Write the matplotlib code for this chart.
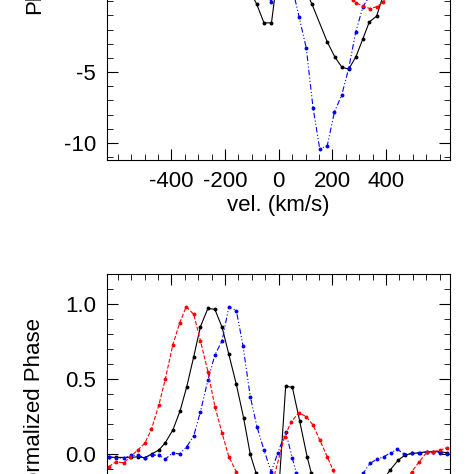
import numpy as np
import matplotlib.pyplot as plt

plt.rcParams['font.family'] = ['Liberation Sans', 'DejaVu Sans']

# top panel: phase vs velocity (only lower part visible)
top_black_v = [-640, -300, -110, -82, -55, -27, -10, 40, 100, 124, 181, 209, 236, 261, 288, 313, 338, 365, 400, 640]
top_black_y = [1.0, 1.0, 0.8, -0.21, -1.53, -1.53, 1.0, 1.5, 0.8, -0.21, -2.87, -3.92, -4.67, -4.79, -3.92, -2.70, -1.46, -1.06, 1.0, 1.0]
top_blue_v = [-640, -300, -60, -28, 0, 50, 76, 103, 128, 153, 181, 208, 235, 261, 287, 314, 360, 640]
top_blue_y = [1.0, 1.0, 1.0, -0.05, 1.5, 1.0, -1.1, -3.33, -7.51, -10.42, -10.19, -7.8, -6.62, -4.74, -2.2, -0.4, 1.0, 1.0]
top_red_v = [-640, 100, 250, 278, 290, 313, 340, 365, 390, 410, 640]
top_red_y = [1.0, 1.0, 0.8, 0.07, -0.12, -0.35, -0.52, -0.40, -0.05, 0.6, 1.0]

# bottom panel: normalized phase
bot_red_v = [-634, -607, -578, -553, -526, -500, -475, -447, -423, -395, -370, -345, -317, -292, -264,
             -238, -211, -186, -158, -100, -40, 22, 47, 75, 103, 128, 153, 181, 203, 230, 300, 400, 470,
             496, 524, 552, 577, 602, 627]
bot_red_y = [-0.084, -0.051, -0.058, -0.018, 0.027, 0.071, 0.164, 0.327, 0.5, 0.727, 0.871, 0.982, 0.931, 0.756, 0.549,
             0.316, 0.138, -0.018, -0.118, -0.3, -0.3, 0.116, 0.216, 0.276, 0.249, 0.194, 0.094, -0.018, -0.107, -0.25, -0.35, -0.3, -0.2,
             -0.118, -0.051, 0.011, 0.016, 0.027, 0.042]
bot_black_v = [-634, -607, -551, -526, -500, -474, -447, -423, -395, -368, -343, -317, -292, -264, -238, -211,
               -186, -158, -131, -106, -84, -40, 0, 26, 51, 78, 106, 122, 200, 300, 380,
               415, 446, 471, 496, 527, 552, 577, 602, 627]
bot_black_y = [-0.022, -0.022, -0.022, -0.018, -0.024, 0.0, 0.027, 0.076, 0.16, 0.287, 0.449, 0.649, 0.849, 0.971, 0.964, 0.844,
               0.664, 0.464, 0.242, -0.002, -0.129, -0.3, -0.25, 0.453, 0.444, 0.222, -0.018, -0.129, -0.3, -0.35, -0.2,
               -0.107, -0.04, -0.007, 0.004, 0.009, 0.016, 0.016, 0.016, 0.009]
bot_blue_v = [-634, -607, -578, -551, -526, -500, -474, -447, -423, -395, -370, -343, -317, -292, -264, -238,
              -211, -186, -158, -133, -106, -81, -55, -28, -3, 26, 51, 66, 100, 200, 280,
              315, 340, 365, 392, 417, 443, 468, 496, 524, 552, 577, 602, 627]
bot_blue_y = [-0.018, -0.024, -0.029, -0.009, -0.007, -0.024, -0.007, -0.007, -0.033, 0.009, 0.0, 0.049, 0.122, 0.282, 0.493, 0.660,
              0.756, 0.982, 0.956, 0.72, 0.382, 0.182, 0.027, -0.118, 0.009, 0.149, -0.029, -0.129, -0.3, -0.4, -0.3,
              -0.129, -0.062, -0.036, -0.018, 0.009, 0.031, 0.0, 0.004, 0.009, 0.013, 0.016, 0.009, 0.0]

fig = plt.figure(figsize=(4.74, 4.74), dpi=100)
ax1 = fig.add_axes([0.226, 0.6624, 0.724, 0.395])
ax2 = fig.add_axes([0.226, -0.148, 0.724, 0.57])

def style(ax):
    ax.tick_params(which='both', direction='in', top=True, right=True, labelsize=16, pad=8)
    ax.tick_params(which='major', length=8)
    ax.tick_params(which='minor', length=4)
    ax.minorticks_on()
    for s in ax.spines.values():
        s.set_linewidth(0.8)

kw = dict(marker='o', ms=1.8, lw=0.8)
ax1.plot(top_black_v, top_black_y, color='black', ls='-', **kw)
ax1.plot(top_blue_v, top_blue_y, color='blue', ls=(0, (5, 2, 1, 2, 1, 2)), **kw)
ax1.plot(top_red_v, top_red_y, color='red', ls='--', **kw)
ax1.set_xlim(-640, 640)
ax1.set_ylim(-11.2, 2)
ax1.set_yticks([-10, -5])
ax1.set_yticklabels(['-10', '-5'])
ax1.set_xticks([-400, -200, 0, 200, 400])
ax1.set_xticklabels(['-400', '-200', '0', '200', '400'])
ax1.set_xlabel('vel. (km/s)', fontsize=16, labelpad=2)
ax1.set_ylabel('Phase', fontsize=16, labelpad=18)
ax1.yaxis.set_label_coords(-0.18, 0.95)
style(ax1)

ax2.plot(bot_black_v, bot_black_y, color='black', ls='-', **kw)
ax2.plot(bot_blue_v, bot_blue_y, color='blue', ls=(0, (5, 2, 1, 2, 1, 2)), **kw)
ax2.plot(bot_red_v, bot_red_y, color='red', ls='--', **kw)
ax2.set_xlim(-640, 640)
ax2.set_ylim(-0.6, 1.2)
ax2.set_yticks([0.0, 0.5, 1.0])
ax2.set_xticks([-400, -200, 0, 200, 400])
ax2.tick_params(labelbottom=False)
ax2.set_ylabel('Normalized Phase', fontsize=16)
ax2.yaxis.set_label_coords(-0.18, 0.5)
style(ax2)
ax2.tick_params(labelbottom=False)

fig.savefig('out.png', dpi=100)
